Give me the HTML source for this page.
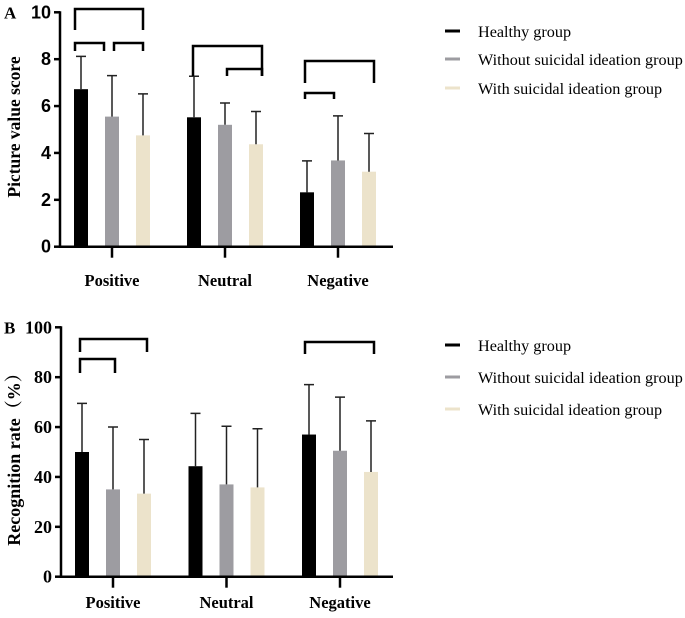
<!DOCTYPE html>
<html><head><meta charset="utf-8"><style>
body{margin:0;background:#fff;width:685px;height:613px;overflow:hidden}
svg text{font-family:"Liberation Serif","Noto Serif CJK SC",serif}
</style></head><body>
<svg id="c" width="685" height="613" xmlns="http://www.w3.org/2000/svg"></svg>
<script>
const categories=["Positive","Neutral","Negative"];
const groups=["Healthy group","Without suicidal ideation group","With suicidal ideation group"];
const colors=["#000000","#9d9ca1","#ece3cb"];
const aMeans=[[6.72,5.55,4.75],[5.52,5.2,4.37],[2.32,3.68,3.2]];
const aTops=[[8.12,7.3,6.52],[7.27,6.13,5.77],[3.66,5.58,4.83]];
const aTicks=[0,2,4,6,8,10];
const bMeans=[[50,35,33.3],[44.3,37,35.8],[57,50.5,42]];
const bTops=[[69.5,60,55],[65.5,60.3,59.3],[77,72,62.5]];
const bTicks=[0,20,40,60,80,100];
const NS="http://www.w3.org/2000/svg";
const svg=document.getElementById('c');
function el(t,a,p){const e=document.createElementNS(NS,t);for(const k in a)e.setAttribute(k,a[k]);(p||svg).appendChild(e);return e;}
function panel(o){
  const g=el('g',{});
  
  
  const y=v=>o.y0-(v-o.min)/(o.max-o.min)*(o.y0-o.y1);
  const cx=(i,j)=>o.cat0+i*o.catStep+(j-1)*o.off;
  o.means.forEach((row,i)=>row.forEach((v,j)=>{
    const x=cx(i,j);
    const b=el('rect',{x:x-7,y:y(v),width:14,height:o.y0-y(v),fill:colors[j]},g);
    
    
    const t=o.tops[i][j];
    const e=el('path',{d:`M${x} ${y(v)}V${y(t)}M${x-5} ${y(t)}H${x+5}`,stroke:'#222','stroke-width':1.5,fill:'none'},g);
    
    
  }));
  const ax=el('path',{d:`M${o.ax} ${o.y1-1}V${o.y0}H${o.axEnd}`,stroke:'#000','stroke-width':2.5,fill:'none'},g);
  
  
  o.ticks.forEach(t=>{
    el('line',{x1:o.ax-6,x2:o.ax,y1:y(t),y2:y(t),stroke:'#000','stroke-width':2.5},g);
    const tl=el('text',{x:o.ax-9,y:y(t)+6,'text-anchor':'end','font-size':18,'font-weight':'bold',style:o.tickFont},g);
    tl.textContent=t;
    
    
  });
  categories.forEach((c,i)=>{
    const x=o.cat0+i*o.catStep;
    el('line',{x1:x,x2:x,y1:o.y0,y2:o.y0+11,stroke:'#000','stroke-width':2.5},g);
    const tl=el('text',{x:x,y:o.labY,'text-anchor':'middle','font-size':16.5,'font-weight':'bold'},g);
    tl.textContent=c;
    
    
  });
  const yt=el('text',{transform:`translate(${o.titleX},${o.titleY}) rotate(-90)`,'text-anchor':'middle','font-size':o.titleSize,'font-weight':'bold'},g);
  yt.textContent=o.title;
  
  
  const pl=el('text',{x:4,y:o.y1+6,'font-size':17,'font-weight':'bold'},g);
  pl.textContent=o.letter;
  
  
  o.brackets.forEach(b=>{
    const p=el('path',{d:`M${b[0]} ${b[3]}V${b[2]}H${b[1]}V${b[3]}`,stroke:'#000','stroke-width':2.5,fill:'none'},g);
    
    
  });
  groups.forEach((n,j)=>{
    const ly=o.legY[j];
    const s=el('line',{x1:445,x2:460,y1:ly,y2:ly,stroke:colors[j],'stroke-width':3},g);
    
    
    const t=el('text',{x:478,y:ly+6,'font-size':16.2},g);
    t.textContent=n;
    
    
  });
}
panel({name:'panel-a',letter:'A',title:'Picture value score',titleSize:17.5,titleY:127,means:aMeans,tops:aTops,ticks:aTicks,min:0,max:10,y0:246.7,y1:12.3,ax:60,axEnd:393,cat0:112,catStep:113,off:31,labY:286,titleX:20,tickFont:'font-family:"Liberation Sans",sans-serif',
  brackets:[[75,143,9,30],[75,104,43,51],[114,143,43,51],[193,262,46,76],[227,262,69,76],[305,374,61,83],[305,334,93,99]],legY:[31,59,88]});
panel({name:'panel-b',letter:'B',title:'Recognition rate（%）',titleSize:18,titleY:455,means:bMeans,tops:bTops,ticks:bTicks,min:0,max:100,y0:576.7,y1:327.3,ax:61,axEnd:393,cat0:113,catStep:113.5,off:31,labY:608,titleX:20,tickFont:'',
  brackets:[[80,147,339,352],[80,115,359,373],[305,374,342,354]],legY:[345,377,409]});
</script>
</body></html>
